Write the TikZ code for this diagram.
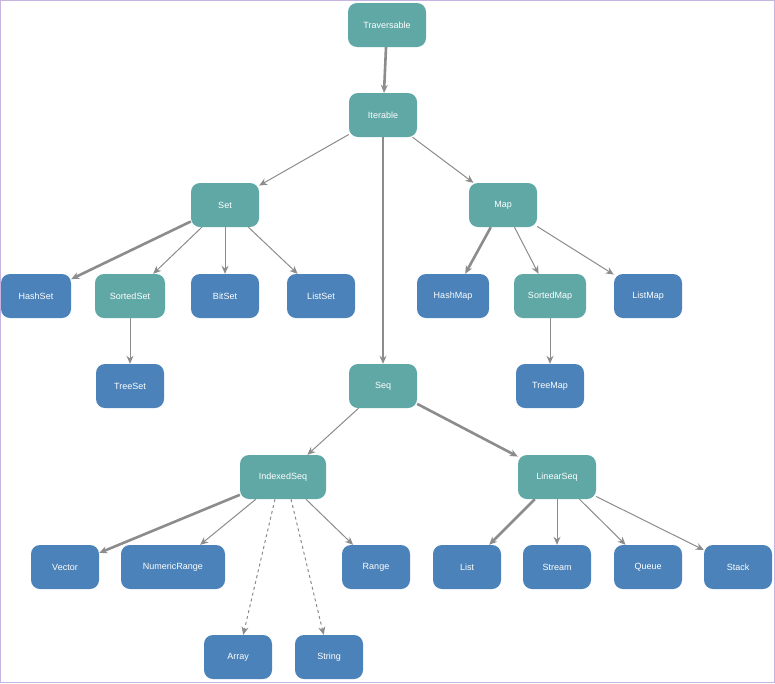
\documentclass[tikz,border=0pt]{standalone}
\usepackage{fontspec}
\setmainfont{Liberation Sans}
\usetikzlibrary{arrows.meta}
\definecolor{tealc}{HTML}{5FA8A6}
\definecolor{bluec}{HTML}{4A82B9}
\definecolor{edgec}{HTML}{8C8C8C}
\begin{document}
\begin{tikzpicture}[x=1pt,y=-1pt,
 base/.style={rounded corners=9pt,minimum height=44pt,text=white,font=\fontsize{9}{10}\selectfont,inner sep=2pt},
 tl/.style={base,fill=tealc,minimum width=#1},
 bl/.style={base,fill=bluec,minimum width=#1},
 ed/.style={draw=edgec,line width=1pt,-{Stealth[length=8pt,width=7pt]}},
 thk/.style={ed,line width=2.6pt},
 dsh/.style={ed,dashed}]
\draw[draw={rgb,255:red,200;green,180;blue,225},fill=white,line width=1pt] (0.5,0.5) rectangle (774.5,682.5);
\useasboundingbox (0,0) rectangle (775,683);
\node[tl=78pt] (trav) at (387,25) {Traversable};
\node[tl=68pt] (iter) at (383,115) {Iterable};
\node[tl=68pt] (set) at (225,205) {Set};
\node[tl=68pt] (map) at (503,205) {Map};
\node[bl=70pt] (hs) at (36,296) {HashSet};
\node[tl=70pt] (ss) at (130,296) {SortedSet};
\node[bl=68pt] (bs) at (225,296) {BitSet};
\node[bl=68pt] (ls) at (321,296) {ListSet};
\node[bl=72pt] (hm) at (453,296) {HashMap};
\node[tl=72pt] (sm) at (550,296) {SortedMap};
\node[bl=68pt] (lm) at (648,296) {ListMap};
\node[bl=68pt] (ts) at (130,386) {TreeSet};
\node[bl=68pt] (tm) at (550,386) {TreeMap};
\node[tl=68pt] (seq) at (383,386) {Seq};
\node[tl=86pt] (is) at (283,477) {IndexedSeq};
\node[tl=78pt] (lseq) at (557,477) {LinearSeq};
\node[bl=68pt] (vec) at (65,567) {Vector};
\node[bl=104pt] (nr) at (173,567) {NumericRange};
\node[bl=68pt] (rng) at (376,567) {Range};
\node[bl=68pt] (lst) at (467,567) {List};
\node[bl=68pt] (str) at (557,567) {Stream};
\node[bl=68pt] (que) at (648,567) {Queue};
\node[bl=68pt] (stk) at (738,567) {Stack};
\node[bl=68pt] (arr) at (238,657) {Array};
\node[bl=68pt] (sng) at (329,657) {String};
\draw[thk] (trav) -- (iter);
\draw[thk] (iter) -- (seq);
\draw[ed] (iter) -- (set);
\draw[ed] (iter) -- (map);
\draw[thk] (set) -- (hs);
\draw[ed] (set) -- (ss);
\draw[ed] (set) -- (bs);
\draw[ed] (set) -- (ls);
\draw[thk] (map) -- (hm);
\draw[ed] (map) -- (sm);
\draw[ed] (map) -- (lm);
\draw[ed] (ss) -- (ts);
\draw[ed] (sm) -- (tm);
\draw[ed] (seq) -- (is);
\draw[thk] (seq) -- (lseq);
\draw[thk] (is) -- (vec);
\draw[ed] (is) -- (nr);
\draw[ed] (is) -- (rng);
\draw[dsh] (is.south) ++(-8,0) -- (arr);
\draw[dsh] (is.south) ++(8,0) -- (sng);
\draw[thk] (lseq) -- (lst);
\draw[ed] (lseq) -- (str);
\draw[ed] (lseq) -- (que);
\draw[ed] (lseq) -- (stk);
\end{tikzpicture}
\end{document}
